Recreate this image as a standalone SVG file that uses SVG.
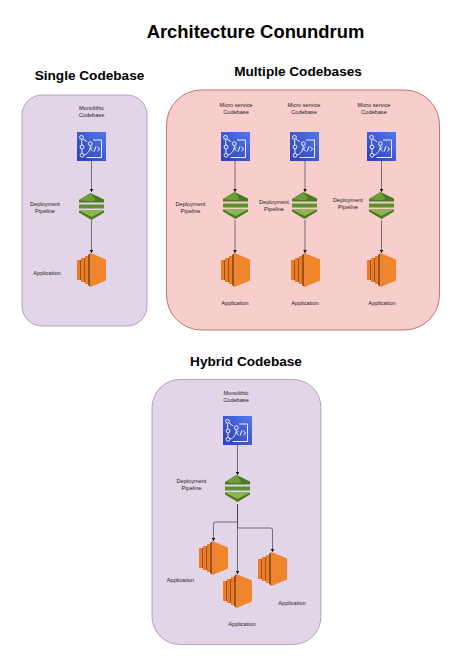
<svg xmlns="http://www.w3.org/2000/svg" width="474" height="668" viewBox="0 0 474 668">
<style>
text{font-family:"Liberation Sans",Arial,sans-serif;fill:#222;text-anchor:middle}
.t{font-size:5.6px}
.h{font-size:13.6px;font-weight:bold;fill:#000}
.c{fill:none;stroke:#444;stroke-width:.7;marker-end:url(#a)}
.p{stroke:#a48fb0;stroke-width:.8;fill:#e1d5e7}
</style>
<defs>
<marker id="a" markerWidth="5" markerHeight="5" refX="3.4" refY="2" orient="auto" markerUnits="userSpaceOnUse"><path d="M0 0L3.400 2L0 4Z" fill="#111"/></marker>
<linearGradient id="b" x1="0" y1="1" x2="1" y2="0"><stop offset="0" stop-color="#2e3fb5"/><stop offset="1" stop-color="#5277ee"/></linearGradient>
<symbol id="code" width="29" height="29" viewBox="0 0 29 29">
<rect width="29" height="29" fill="url(#b)"/>
<g fill="none" stroke="#fff" stroke-width=".9">
<circle cx="4.500" cy="5.300" r="1.900"/><circle cx="5" cy="15" r="1.900"/><circle cx="5" cy="23.300" r="1.900"/><circle cx="13.300" cy="11.700" r="1.900"/>
<path d="M4.700 7.200V13.100M5 16.900V21.400M6.900 23C11 22 13.300 18 13.300 13.600M6 7L10 9.800M16 8H24.500V25.500H9.500"/>
<path d="M15.500 15L13.300 17L15.500 19M20.500 15L22.700 17L20.500 19M19 14.300L17 19.700" stroke-width="1"/>
</g></symbol>
<symbol id="pipe" width="25" height="27" viewBox="0 0 25 27">
<path d="M0 7L11.500 0L25 6.500V9.500H0Z" fill="#4a7824"/><path d="M0 7L11.500 0L16.500 7L12.500 8.500Z" fill="#6d9f38"/>
<rect y="11.500" width="25" height="4" fill="#5f8f30"/>
<path d="M0 17.500H25V19.500L12.500 27L0 19.500Z" fill="#4a7824"/><path d="M0 17.500H25L12.500 24Z" fill="#8ab84d"/>
</symbol>
<symbol id="app" width="29" height="34" viewBox="0 0 29 34">
<path d="M0 7H3V27H0ZM4 5H7V29H4ZM8 3H11V31H8Z" fill="#ed7c22"/>
<path d="M3 7H4V27H3ZM7 5H8V29H7ZM11 2L13.500 0V34L11 32Z" fill="#9c5118"/>
<path d="M13.500 0L29 6.500V27.500L13.500 34Z" fill="#f0852c"/>
</symbol>
</defs>
<rect width="474" height="668" fill="#fff"/>
<text x="255.500" y="38" style="font-size:18.400px;font-weight:bold;fill:#000">Architecture Conundrum</text>
<text x="89.500" y="80" class="h">Single Codebase</text>
<text x="298" y="76" class="h">Multiple Codebases</text>
<text x="246" y="366" class="h">Hybrid Codebase</text>

<g id="panel-single"><rect class="p" x="22" y="95" width="125" height="231" rx="20"/></g>
<g id="panel-multiple"><rect x="166.500" y="90" width="273" height="240" rx="35" fill="#f8cecc" stroke="#b85450" stroke-width=".8"/></g>
<g id="panel-hybrid"><rect class="p" x="152" y="379.500" width="169" height="265" rx="28"/></g>

<g id="connectors">
<path class="c" d="M91.500 161V192"/><path class="c" d="M91.500 220V253"/>
<path class="c" d="M235 161V192"/><path class="c" d="M235 220V253"/>
<path class="c" d="M305 161V192"/><path class="c" d="M305 220V253"/>
<path class="c" d="M381.500 161V192"/><path class="c" d="M381.500 220V253"/>
<path class="c" d="M237.500 445V475"/>
<path class="c" d="M237.500 504V522H215Q213.500 522 213.500 524V541"/>
<path class="c" d="M237.500 504V574"/>
<path class="c" d="M237.500 504V528H270.500Q272.500 528 272.500 530V552"/>
</g>

<g id="single-code"><use href="#code" x="77" y="132"/><text class="t" x="91.500" y="110">Monolithic</text><text class="t" x="91.500" y="117">Codebase</text></g>
<g id="single-pipeline"><use href="#pipe" x="79" y="193"/><text class="t" x="45" y="206">Deployment</text><text class="t" x="45" y="213">Pipeline</text></g>
<g id="single-app"><use href="#app" x="77" y="253"/><text class="t" x="47" y="275">Application</text></g>

<g id="ms1-code"><use href="#code" x="221" y="132"/><text class="t" x="236" y="107">Micro service</text><text class="t" x="236" y="114">Codebase</text></g>
<g id="ms1-pipeline"><use href="#pipe" x="223" y="192"/><text class="t" x="190.500" y="206">Deployment</text><text class="t" x="190.500" y="213">Pipeline</text></g>
<g id="ms1-app"><use href="#app" x="221" y="253"/><text class="t" x="235" y="305">Application</text></g>

<g id="ms2-code"><use href="#code" x="290" y="132"/><text class="t" x="304" y="107">Micro service</text><text class="t" x="304" y="114">Codebase</text></g>
<g id="ms2-pipeline"><use href="#pipe" x="292" y="192"/><text class="t" x="274" y="204">Deployment</text><text class="t" x="274" y="211">Pipeline</text></g>
<g id="ms2-app"><use href="#app" x="291" y="253"/><text class="t" x="305" y="305">Application</text></g>

<g id="ms3-code"><use href="#code" x="367" y="132"/><text class="t" x="374" y="107">Micro service</text><text class="t" x="374" y="114">Codebase</text></g>
<g id="ms3-pipeline"><use href="#pipe" x="369" y="192"/><text class="t" x="348" y="202">Deployment</text><text class="t" x="348" y="209">Pipeline</text></g>
<g id="ms3-app"><use href="#app" x="367" y="253"/><text class="t" x="382" y="305">Application</text></g>

<g id="hybrid-code"><use href="#code" x="223" y="416"/><text class="t" x="236" y="395">Monolithic</text><text class="t" x="236" y="402">Codebase</text></g>
<g id="hybrid-pipeline"><use href="#pipe" x="225" y="475"/><text class="t" x="191.500" y="483">Deployment</text><text class="t" x="191.500" y="490">Pipeline</text></g>
<g id="hybrid-app1"><use href="#app" x="199" y="541"/><text class="t" x="180.500" y="582">Application</text></g>
<g id="hybrid-app2"><use href="#app" x="223" y="574"/><text class="t" x="242" y="626">Application</text></g>
<g id="hybrid-app3"><use href="#app" x="258" y="552"/><text class="t" x="292" y="605">Application</text></g>
</svg>
